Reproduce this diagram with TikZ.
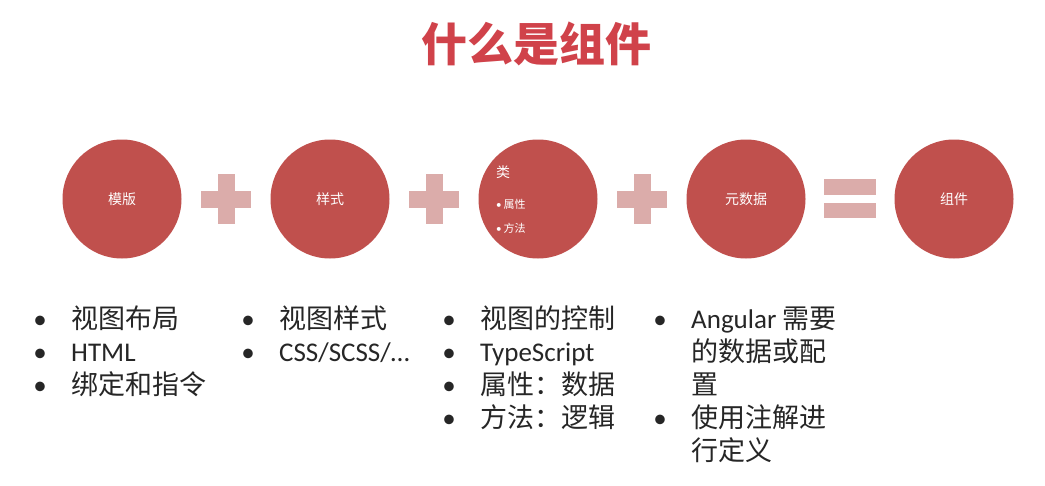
\documentclass[tikz,border=0pt]{standalone}
\usepackage{fontspec}
\setmainfont{Noto Sans CJK SC}
\newfontfamily\lat{Carlito}
\definecolor{cred}{HTML}{C0504D}
\definecolor{cpink}{HTML}{DBACAA}
\definecolor{tred}{HTML}{D0424A}
\definecolor{txt}{HTML}{262626}
\tikzset{
  circ/.style={circle,fill=cred,minimum size=119pt,inner sep=0pt,text=white,font=\fontsize{14}{16}\selectfont},
  opbar/.style={fill=cpink,draw=none},
  bul/.style={anchor=base,inner sep=0pt,text=txt,font=\lat\fontsize{27}{30}\selectfont},
  itm/.style={anchor=base west,inner sep=0pt,text=txt,font=\fontsize{27}{30}\selectfont},
  clstext/.style={anchor=west,inner sep=0pt,text=white},
  plussign/.pic={\fill[opbar] (-25,-8.5) rectangle (25,8.5); \fill[opbar] (-8.5,-25) rectangle (8.5,25);}
}
\begin{document}
\begin{tikzpicture}[x=1pt,y=-1pt]
\useasboundingbox (0,0) rectangle (1045,485);
\fill[white] (0,0) rectangle (1045,485);
\node[text=tred,font=\fontsize{46}{50}\selectfont\bfseries] (title) at (536,44) {什么是组件};
% circles
\node[circ] (c1) at (122,199) {模版};
\node[circ] (c2) at (330,199) {样式};
\node[circ] (c3) at (538,199) {};
\node[circ] (c4) at (746,199) {元数据};
\node[circ] (c5) at (954,199) {组件};
\node[clstext,font=\fontsize{14}{16}\selectfont] (c3a) at (496,172) {类};
\node[clstext,font=\fontsize{11}{13}\selectfont] (c3b) at (496,204) {{\lat •}\,属性};
\node[clstext,font=\fontsize{11}{13}\selectfont] (c3c) at (496,228) {{\lat •}\,方法};
% operators
\pic (p1) at (226,199) {plussign};
\pic (p2) at (434,199) {plussign};
\pic (p3) at (642,199) {plussign};
\fill[opbar] (824,179) rectangle (876,195);
\fill[opbar] (824,203) rectangle (876,218);
% column 1
\node[bul] (b11) at (40,328) {•};
\node[itm] (t11) at (71,328) {视图布局};
\node[bul] (b12) at (40,361) {•};
\node[itm] (t12) at (71,361) {\lat HTML};
\node[bul] (b13) at (40,394) {•};
\node[itm] (t13) at (71,394) {绑定和指令};
% column 2
\node[bul] (b21) at (248,328) {•};
\node[itm] (t21) at (279,328) {视图样式};
\node[bul] (b22) at (248,361) {•};
\node[itm] (t22) at (279,361) {\lat CSS/SCSS/…};
% column 3
\node[bul] (b31) at (449,328) {•};
\node[itm] (t31) at (480,328) {视图的控制};
\node[bul] (b32) at (449,361) {•};
\node[itm] (t32) at (480,361) {\lat TypeScript};
\node[bul] (b33) at (449,394) {•};
\node[itm] (t33) at (480,394) {属性：数据};
\node[bul] (b34) at (449,427) {•};
\node[itm] (t34) at (480,427) {方法：逻辑};
% column 4
\node[bul] (b41) at (660,328) {•};
\node[itm] (t41) at (691,328) {{\lat Angular} 需要};
\node[itm] (t42) at (691,361) {的数据或配};
\node[itm] (t43) at (691,394) {置};
\node[bul] (b44) at (660,427) {•};
\node[itm] (t44) at (691,427) {使用注解进};
\node[itm] (t45) at (691,460) {行定义};
\end{tikzpicture}
\end{document}
